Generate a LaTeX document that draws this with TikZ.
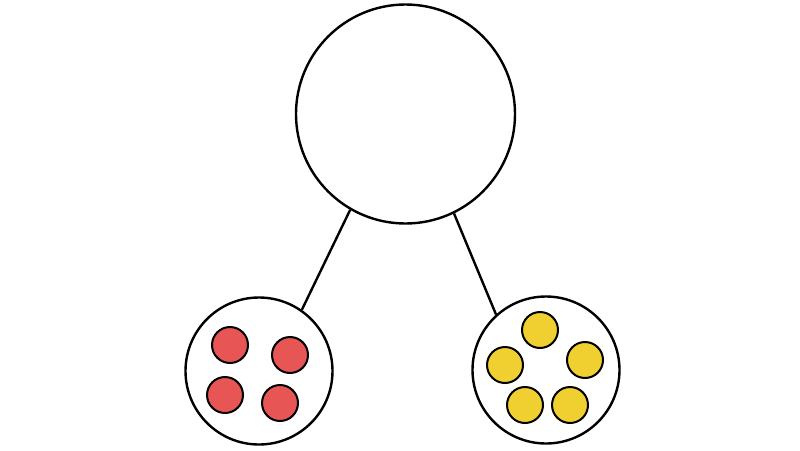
\documentclass[tikz,border=0pt]{standalone}
\begin{document}
\begin{tikzpicture}[x=1pt,y=-1pt,
  ring/.style={circle,draw=black,line width=2.4pt,fill=white,inner sep=0pt},
  reddot/.style={circle,draw=black,line width=2pt,fill=dotred,inner sep=0pt,minimum size=36pt},
  yellowdot/.style={circle,draw=black,line width=2pt,fill=dotyellow,inner sep=0pt,minimum size=36pt},
  link/.style={draw=black,line width=2.4pt}]
\definecolor{dotred}{HTML}{E85555}
\definecolor{dotyellow}{HTML}{F0D030}
\useasboundingbox[fill=white] (0,0) rectangle (800,450);
\node[ring,minimum size=219pt] (big) at (405.5,114) {};
\node[ring,minimum size=147pt] (left) at (259,371) {};
\node[ring,minimum size=147pt] (right) at (546,370) {};
\draw[link] (big.240) -- (left.55);
\draw[link] (big.-64) -- (right.132);
\node[reddot] (r1) at (230,345) {};
\node[reddot] (r2) at (290,355) {};
\node[reddot] (r3) at (225,395) {};
\node[reddot] (r4) at (280,403) {};
\node[yellowdot] (y1) at (540,330) {};
\node[yellowdot] (y2) at (505,365) {};
\node[yellowdot] (y3) at (585,360) {};
\node[yellowdot] (y4) at (525,405) {};
\node[yellowdot] (y5) at (570,405) {};
\end{tikzpicture}
\end{document}
